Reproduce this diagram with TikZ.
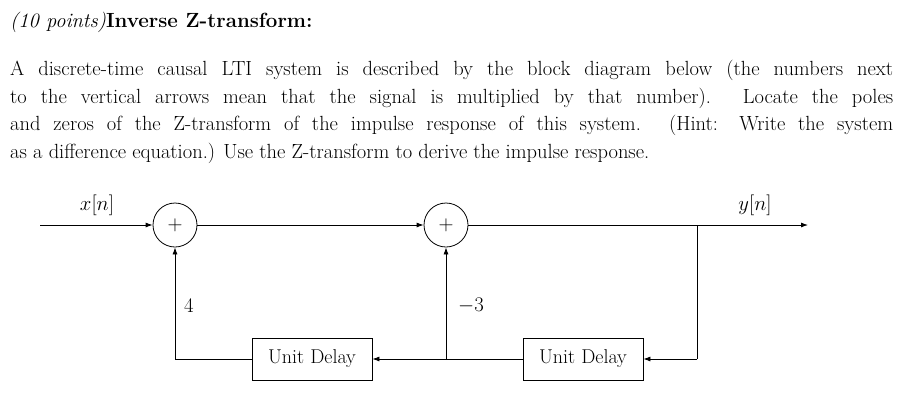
\documentclass[tikz,border=0pt]{standalone}
\usetikzlibrary{arrows.meta}
\begin{document}
\begin{tikzpicture}[x=1pt,y=-1pt,
  sig/.style={draw,line width=0.8pt,-{Latex[length=7pt,width=5pt]}},
  ln/.style={draw,line width=0.8pt},
  sumnode/.style={circle,draw,line width=0.8pt,minimum size=44pt,inner sep=0pt,font=\fontsize{20}{24}\selectfont},
  delaybox/.style={rectangle,draw,line width=0.8pt,minimum width=120pt,minimum height=42pt,font=\fontsize{20}{24}\selectfont},
  lab/.style={font=\fontsize{20}{24}\selectfont,inner sep=0pt}]
\useasboundingbox (0,0) rectangle (914,408);
\node[anchor=north west,inner sep=0pt,text width=883pt,align=justify,font=\fontsize{20.5}{27.4}\selectfont] (txt) at (10,12)
{\textit{(10 points)}\textbf{Inverse Z-transform:}\par\vspace{21pt}
A discrete-time causal LTI system is described by the block diagram below (the numbers next\linebreak
to the vertical arrows mean that the signal is multiplied by that number). Locate the poles\linebreak
and zeros of the Z-transform of the impulse response of this system. (Hint: Write the system\linebreak
as a difference equation.) Use the Z-transform to derive the impulse response.\par};
\node[sumnode] (s1) at (175,225) {$+$};
\node[sumnode] (s2) at (446,225) {$+$};
\node[delaybox] (d1) at (312,359) {Unit Delay};
\node[delaybox] (d2) at (583,359) {Unit Delay};
\coordinate (in) at (40,225);
\coordinate (out) at (808,225);
\coordinate (tap) at (697,225);
\coordinate (tapb) at (697,359);
\coordinate (j2) at (446,359);
\coordinate (c1) at (175,359);
\path[sig] (in) -- (s1);
\path[sig] (s1) -- (s2);
\path[sig] (s2) -- (out);
\path[ln] (tap) -- (tapb);
\path[sig] (tapb) -- (d2.east);
\path[ln] (d2.west) -- (j2);
\path[sig] (j2) -- (d1.east);
\path[sig] (j2) -- (s2.south);
\path[ln] (d1.west) -- (c1);
\path[sig] (c1) -- (s1.south);
\node[lab] (xl) at (97,205) {$x[n]$};
\node[lab] (yl) at (755,205) {$y[n]$};
\node[lab] (g1) at (189,306) {$4$};
\node[lab] (g2) at (471,306) {$-3$};
\end{tikzpicture}
\end{document}
